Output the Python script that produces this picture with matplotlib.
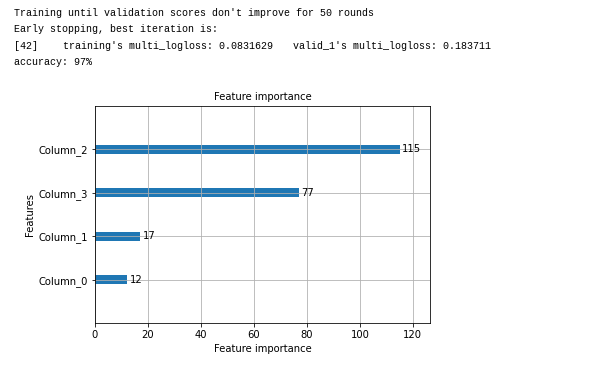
import matplotlib
matplotlib.use("Agg")
import matplotlib.pyplot as plt

# console output above the chart
log_lines = [
    ["Training until validation scores don't improve for 50 rounds"],
    ["Early stopping, best iteration is:"],
    ["[42]", "training's multi_logloss: 0.0831629", "valid_1's multi_logloss: 0.183711"],
    ["accuracy: 97%"],
]
log_cols = [14, 63, 293]  # pixel x of each tab-separated segment

features = ["Column_0", "Column_1", "Column_3", "Column_2"]
importance = [12, 17, 77, 115]

W, H = 613, 371
fig = plt.figure(figsize=(W / 72, H / 72), dpi=72)

for i, line in enumerate(log_lines):
    y = 13 + i * 16.3
    for j, seg in enumerate(line):
        fig.text(log_cols[j] / W, 1 - y / H, seg, family="Liberation Mono",
                 fontsize=10, va="center", ha="left", color="black")

ax = fig.add_axes([95 / W, 1 - 323 / H, 335 / W, 217 / H])
ypos = list(range(len(features)))
ax.barh(ypos, importance, height=0.2, align="center", color="#1f77b4")
for x, y in zip(importance, ypos):
    ax.text(x + 1, y, str(x), va="center", fontsize=10)
ax.set_yticks(ypos)
ax.set_yticklabels(features)
ax.set_xlim(0, max(importance) * 1.1)
ax.set_ylim(-1, len(features))
ax.set_title("Feature importance", fontsize=10)
ax.set_xlabel("Feature importance", fontsize=10)
ax.set_ylabel("Features", fontsize=10)
ax.tick_params(labelsize=10)
ax.grid(True)

fig.savefig("out.png", dpi=72)
